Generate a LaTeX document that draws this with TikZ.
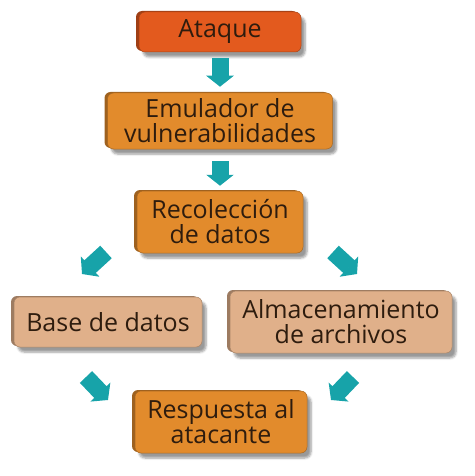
\documentclass[tikz,border=0pt]{standalone}
\usepackage{fontspec}
\setmainfont{Open Sans}
\usetikzlibrary{arrows.meta,shadows,shadows.blur}
\definecolor{flowteal}{HTML}{17A3A9}
\definecolor{atqcol}{HTML}{E35A1E}
\definecolor{stepcol}{HTML}{E28B2C}
\definecolor{storecol}{HTML}{E0B08A}
\definecolor{inkbrown}{HTML}{2E1C0E}
\begin{document}
\begin{tikzpicture}[x=1pt,y=-1pt,
    box/.style={rounded corners=6pt, fill=#1, draw=#1!75!black, line width=0.5pt,
      text=inkbrown, align=center, inner sep=0pt,
      font=\fontsize{25}{25}\selectfont,
      blur shadow={shadow xshift=4pt, shadow yshift=-5pt, shadow blur steps=6},
      general shadow={fill=#1!70!black, shadow xshift=-3pt, shadow yshift=1pt}},
    flow/.style={line width=17pt, flowteal, -{Triangle[width=27pt,length=11pt]}}]
  \useasboundingbox (0,0) rectangle (474,476);
  % boxes
  \node[box=atqcol, minimum width=162pt, minimum height=40pt] (atq) at (220,32) {Ataque};
  \node[box=stepcol, minimum width=225pt, minimum height=56pt] (emu) at (220,121) {Emulador de\\vulnerabilidades};
  \node[box=stepcol, minimum width=166pt, minimum height=62pt] (rec) at (220,222) {Recolección\\de datos};
  \node[box=storecol, minimum width=188pt, minimum height=50pt] (base) at (108,322) {Base de datos};
  \node[box=storecol, minimum width=222pt, minimum height=62pt] (alm) at (341,322) {Almacenamiento\\de archivos};
  \node[box=stepcol, minimum width=172pt, minimum height=62pt] (resp) at (221,422) {Respuesta al\\atacante};
  % arrow ends
  \coordinate (recL) at (106,252);  \coordinate (baseT) at (82,274);
  \coordinate (recR) at (333,252);  \coordinate (almT) at (357,274);
  \coordinate (baseB) at (86,377);  \coordinate (respL) at (108,400);
  \coordinate (almB) at (353,377);  \coordinate (respR) at (331,400);
  % arrows
  \draw[flow, shorten <=6pt, shorten >=6pt] (atq.south) -- (emu.north);
  \draw[flow, shorten <=12pt, shorten >=5pt] (emu.south) -- (rec.north);
  \draw[flow] (recL) -- (baseT);
  \draw[flow] (recR) -- (almT);
  \draw[flow] (baseB) -- (respL);
  \draw[flow] (almB) -- (respR);
\end{tikzpicture}
\end{document}
